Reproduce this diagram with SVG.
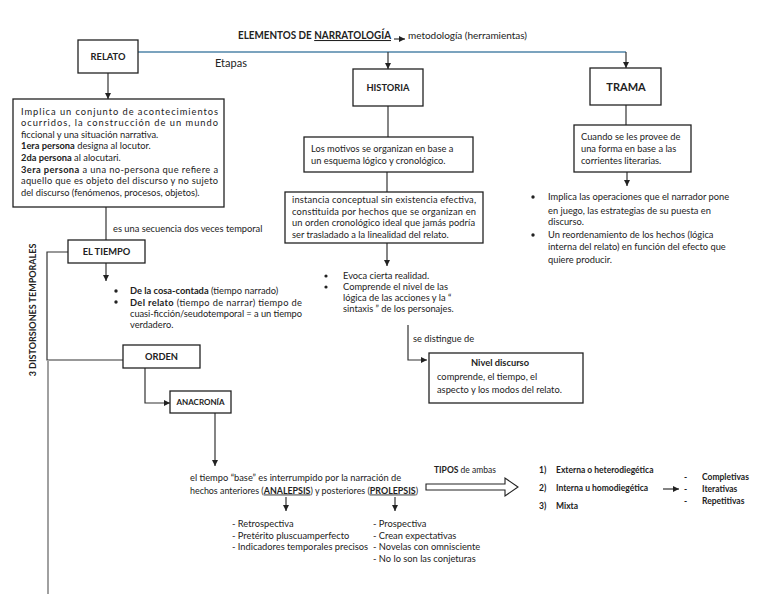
<svg xmlns="http://www.w3.org/2000/svg" width="768" height="594" viewBox="0 0 768 594">
<style>
text{font-family:Lato,"Open Sans","Liberation Sans",sans-serif;font-size:9.3px;fill:#222}
.b{font-weight:bold}
.h{font-weight:bold;text-anchor:middle}
.u{text-decoration:underline}
.box{fill:#fff;stroke:#222;stroke-width:1.3}
.ln{fill:none;stroke:#333;stroke-width:1.2}
.ar{fill:none;stroke:#333;stroke-width:1.2;marker-end:url(#ah)}
.blue{fill:none;stroke:#4f84a8;stroke-width:1.6}
.gray{fill:none;stroke:#a0a0a0;stroke-width:2}
.dot{fill:#222}
.s{font-size:8.5px;font-weight:bold}
</style>
<defs>
<marker id="ah" markerUnits="userSpaceOnUse" markerWidth="7" markerHeight="7" refX="6" refY="3.5" orient="auto">
<path d="M0,0.5 L6,3.5 L0,6.5 z" fill="#222"/>
</marker>
</defs>
<rect width="768" height="594" fill="#fff"/>

<g id="title">
<text x="238" y="39" class="b" style="font-size:10.5px" textLength="153" lengthAdjust="spacingAndGlyphs">ELEMENTOS DE <tspan class="u">NARRATOLOGÍA</tspan></text>
<path d="M394,39 H405" class="ar"/>
<text x="408" y="39" style="font-size:10px" textLength="119" lengthAdjust="spacing">metodología (herramientas)</text>
</g>

<g id="connectors">
<path d="M138,52 H626" class="blue"/>
<path d="M388,52 V69" class="ar"/>
<path d="M626,52 V68" class="ar"/>
<path d="M108,73 V99" class="ar"/>
<path d="M106,207 V240" class="ln"/>
<path d="M106,263 V281" class="ar"/>
<path d="M68,252 H47 V360 H123" class="ln"/>
<path d="M48,360 V594" class="gray"/>
<path d="M145,368 V403 H170" class="ar"/>
<path d="M215,413 V466" class="ar"/>
<path d="M286,497 V511" class="ar"/>
<path d="M395,497 V511" class="ar"/>
<path d="M663,489 H679" class="ar"/>
<path d="M388,106 V137" class="ln"/>
<path d="M387,172 V192" class="ln"/>
<path d="M387,243 V266" class="ar"/>
<path d="M408,325 V360 H427" class="ar"/>
<path d="M626,105 V125" class="ln"/>
<path d="M627,172 V186" class="ar"/>
<polygon points="426,484 505,484 505,478 518,487 505,496 505,490 426,490" fill="#fff" stroke="#222" stroke-width="1.1"/>
</g>

<g id="etapas"><text x="215" y="67" style="font-size:11px">Etapas</text></g>

<g id="relato">
<rect x="78" y="40" width="60" height="33" class="box"/>
<text x="108" y="60" class="h">RELATO</text>
</g>

<g id="relato-def">
<rect x="13" y="99" width="211" height="108" class="box"/>
<text x="21" y="114.5" textLength="197" lengthAdjust="spacing">Implica un conjunto de acontecimientos</text>
<text x="21" y="126" textLength="197" lengthAdjust="spacing">ocurridos, la construcción de un mundo</text>
<text x="21" y="137.5">ficcional y una situación narrativa.</text>
<text x="21" y="149"><tspan class="b">1era persona</tspan> designa al locutor.</text>
<text x="21" y="161"><tspan class="b">2da persona</tspan> al alocutari.</text>
<text x="21" y="172.5" textLength="197" lengthAdjust="spacing"><tspan class="b">3era persona</tspan> a una no-persona que refiere a</text>
<text x="21" y="184" textLength="197" lengthAdjust="spacing">aquello que es objeto del discurso y no sujeto</text>
<text x="21" y="195.5">del discurso (fenómenos, procesos, objetos).</text>
</g>

<g id="secuencia"><text x="113" y="232">es una secuencia dos veces temporal</text></g>

<g id="el-tiempo">
<rect x="68" y="240" width="77" height="23" class="box"/>
<text x="106.5" y="255" class="h">EL TIEMPO</text>
</g>

<g id="tiempo-bullets">
<circle cx="116" cy="291" r="1.7" class="dot"/>
<circle cx="116" cy="302" r="1.7" class="dot"/>
<text x="130" y="294"><tspan class="b">De la cosa-contada</tspan> (tiempo narrado)</text>
<text x="130" y="305.5" textLength="172" lengthAdjust="spacing"><tspan class="b">Del relato</tspan> (tiempo de narrar) tiempo de</text>
<text x="130" y="316.5" textLength="172" lengthAdjust="spacing">cuasi-ficción/seudotemporal = a un tiempo</text>
<text x="130" y="327.5">verdadero.</text>
</g>

<g id="distorsiones">
<text transform="translate(36,310) rotate(-90)" class="h" style="font-size:9px">3 DISTORSIONES TEMPORALES</text>
</g>

<g id="orden">
<rect x="123" y="345" width="77" height="23" class="box"/>
<text x="161.5" y="360" class="h">ORDEN</text>
</g>

<g id="anacronia">
<rect x="170" y="391" width="61" height="22" class="box"/>
<text x="200.5" y="405" class="h" style="font-size:8px">ANACRONÍA</text>
</g>

<g id="anacronia-def">
<text x="190" y="480.5">el tiempo “base” es interrumpido por la narración de</text>
<text x="190" y="493.5" style="font-size:8.9px">hechos anteriores (<tspan class="b u">ANALEPSIS</tspan>) y posteriores (<tspan class="b u">PROLEPSIS</tspan>)</text>
</g>

<g id="analepsis-list">
<text x="232" y="527">- Retrospectiva</text>
<text x="232" y="538.5">- Pretérito pluscuamperfecto</text>
<text x="232" y="550">- Indicadores temporales precisos</text>
</g>

<g id="prolepsis-list">
<text x="373" y="527">- Prospectiva</text>
<text x="373" y="538.5">- Crean expectativas</text>
<text x="373" y="550">- Novelas con omnisciente</text>
<text x="373" y="561.5">- No lo son las conjeturas</text>
</g>

<g id="tipos"><text x="434" y="473" style="font-size:8.5px"><tspan class="b">TIPOS</tspan> de ambas</text></g>

<g id="tipos-list">
<text x="539" y="473" class="s">1)</text>
<text x="556" y="473" class="s">Externa o heterodiegética</text>
<text x="539" y="491" class="s">2)</text>
<text x="556" y="491" class="s">Interna u homodiegética</text>
<text x="539" y="509" class="s">3)</text>
<text x="556" y="509" class="s">Mixta</text>
</g>

<g id="homodiegetica-list">
<text x="684" y="480" class="s">-</text>
<text x="684" y="492" class="s">-</text>
<text x="684" y="504" class="s">-</text>
<text x="702" y="480" class="s">Completivas</text>
<text x="702" y="492" class="s">Iterativas</text>
<text x="702" y="504" class="s">Repetitivas</text>
</g>

<g id="historia">
<rect x="353" y="69" width="70" height="37" class="box"/>
<text x="388" y="91" class="h">HISTORIA</text>
</g>

<g id="historia-motivos">
<rect x="304" y="137" width="169" height="35" class="box"/>
<text x="311" y="152">Los motivos se organizan en base a</text>
<text x="311" y="163.5">un esquema lógico y cronológico.</text>
</g>

<g id="historia-instancia">
<rect x="285" y="192" width="198" height="51" class="box"/>
<text x="292" y="203" textLength="184" lengthAdjust="spacing">instancia conceptual sin existencia efectiva,</text>
<text x="292" y="214.5" textLength="184" lengthAdjust="spacing">constituida por hechos que se organizan en</text>
<text x="292" y="226" textLength="183" lengthAdjust="spacing">un orden cronológico ideal que jamás podría</text>
<text x="292" y="237.5">ser trasladado a la linealidad del relato.</text>
</g>

<g id="historia-bullets">
<circle cx="326" cy="276" r="1.6" class="dot"/>
<circle cx="326" cy="287" r="1.6" class="dot"/>
<text x="343" y="279">Evoca cierta  realidad.</text>
<text x="343" y="290" textLength="105" lengthAdjust="spacing">Comprende el nivel de las</text>
<text x="343" y="301">lógica de las acciones y la “</text>
<text x="343" y="312">sintaxis ” de los personajes.</text>
</g>

<g id="distingue"><text x="413" y="342">se distingue de</text></g>

<g id="nivel-discurso">
<rect x="429" y="353" width="154" height="50" class="box"/>
<text x="500" y="366" class="h">Nivel discurso</text>
<text x="437" y="380">comprende, el tiempo, el</text>
<text x="437" y="393">aspecto y los modos del relato.</text>
</g>

<g id="trama">
<rect x="590" y="68" width="71" height="37" class="box"/>
<text x="626" y="91" class="h" style="font-size:11px">TRAMA</text>
</g>

<g id="trama-def">
<rect x="574" y="125" width="117" height="47" class="box"/>
<text x="581" y="140">Cuando se les provee de</text>
<text x="581" y="151.5">una forma en base a las</text>
<text x="581" y="164">corrientes literarias.</text>
</g>

<g id="trama-bullets">
<circle cx="533" cy="197" r="1.7" class="dot"/>
<circle cx="533" cy="235" r="1.7" class="dot"/>
<text x="548" y="200">Implica las operaciones que el narrador pone</text>
<text x="548" y="213.5">en juego, las estrategias de su puesta en</text>
<text x="548" y="225">discurso.</text>
<text x="548" y="238">Un  reordenamiento de los hechos (lógica</text>
<text x="548" y="250">interna del relato) en función del efecto que</text>
<text x="548" y="263">quiere producir.</text>
</g>
</svg>
